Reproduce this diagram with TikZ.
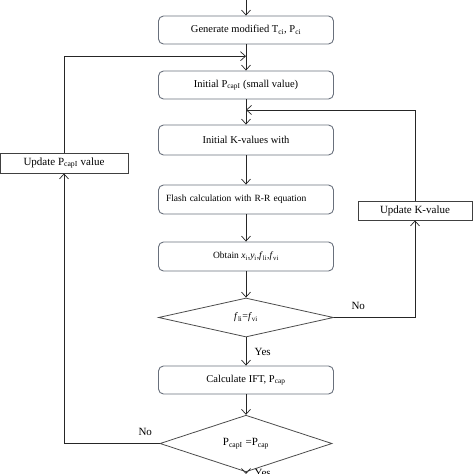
\documentclass[tikz,border=0pt]{standalone}
\usepackage{fontspec}
\setmainfont{Liberation Serif}
\usetikzlibrary{shapes.geometric}
\usetikzlibrary{arrows.meta}
\usetikzlibrary{calc}
\definecolor{Rahmen}{RGB}{105,112,124}
\tikzset{
  Kasten/.style={draw=Rahmen, line width=0.9pt, rounded corners=5pt, minimum width=175pt, minimum height=28pt, inner sep=2pt}, % Schritte
  Raute/.style={draw=black!70, line width=0.8pt, diamond, inner sep=0pt, minimum width=175pt, minimum height=39pt}, % Abfragen
  Hilfe/.style={draw=black!75, line width=0.8pt, minimum height=19pt, inner sep=2pt, font=\fontsize{11}{12}\selectfont}, % Rueckfuehrung
  Pfeil/.style={draw=black!85, line width=0.7pt, ->} % Verbindungen
}

\begin{document}
\begin{tikzpicture}[x=1pt, y=-1pt,
font=\fontsize{10.5}{12}\selectfont,
>={Straight Barb[length=5pt,width=9pt]}
]
\useasboundingbox (0,0) rectangle (474,474);

%Schritte
\node[Kasten] (gen) at (246,30) {Generate modified T\textsubscript{ci}, P\textsubscript{ci}};
\node[Kasten] (init) at (246,85) {Initial P\textsubscript{capI} (small value)};
\node[Kasten, minimum height=30pt] (kval) at (246,140) {Initial K-values with};
\node[Kasten, text width=160pt, align=left, minimum height=29pt, font=\fontsize{9.5}{11}\selectfont] (flash) at (246,199.5) {Flash calculation with R-R equation};
\node[Kasten, minimum height=29pt, font=\fontsize{9.5}{11}\selectfont] (obtain) at (246,256.5) {Obtain \textit{x}\textsubscript{i},\textit{y}\textsubscript{i},\textit{f}\textsubscript{li},\textit{f}\textsubscript{vi}};
\node[Raute, font=\fontsize{10}{11}\selectfont] (check1) at (246,317.5) {\textit{f}\textsubscript{li}=\textit{f}\textsubscript{vi}};
\node[Kasten] (calc) at (246,380) {Calculate IFT, P\textsubscript{cap}};
\node[Raute, minimum width=172pt, font=\fontsize{11}{12}\selectfont] (check2) at (246,443.5) {P\textsubscript{capI} =P\textsubscript{cap}};

%Rueckfuehrungen
\node[Hilfe, minimum width=114pt] (updK) at (415,210.5) {Update K-value};
\node[Hilfe, minimum width=128pt, minimum height=20pt] (updP) at (64,163) {Update P\textsubscript{capI} value};

%Hilfspunkte
\coordinate (start) at (246,0);
\coordinate (ende) at (246,474);
\coordinate (join1) at ($(gen.south)!0.45!(init.north)$);
\coordinate (join2) at ($(init.south)!0.42!(kval.north)$);

%Verbindungen
\draw[Pfeil] (start) -- (gen);
\draw[Pfeil] (gen) -- (init);
\draw[Pfeil] (init) -- (kval);
\draw[Pfeil] (kval) -- (flash);
\draw[Pfeil] (flash) -- (obtain);
\draw[Pfeil] (obtain) -- (check1);
\draw[Pfeil] (check1) -- node[right=5pt, font=\fontsize{11}{12}\selectfont]{Yes} (calc);
\draw[Pfeil] (calc) -- (check2);
\draw[Pfeil] (check2) -- node[pos=0.6, right=5pt, font=\fontsize{11}{12}\selectfont]{Yes} (ende);

\draw[Pfeil] (check1.east) -- node[pos=0.3, above=4pt, font=\fontsize{11}{12}\selectfont]{No} (check1.east -| updK.south) -- (updK.south);
\draw[Pfeil] (updK.north) |- (join2);
\draw[Pfeil] (check2.west) -- node[pos=0.15, above=4pt, font=\fontsize{11}{12}\selectfont]{No} (check2.west -| updP.south) -- (updP.south);
\draw[Pfeil] (updP.north) |- (join1);

\end{tikzpicture}
\end{document}
